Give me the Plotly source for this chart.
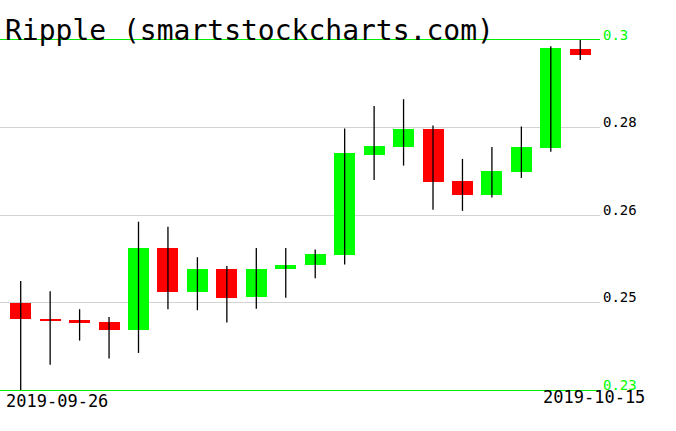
import plotly.graph_objects as go
import pandas as pd

dates = pd.date_range("2019-09-26", "2019-10-15", freq="D").strftime("%Y-%m-%d").tolist()
opens  = [0.2475, 0.2443, 0.2441, 0.2437, 0.2422, 0.2581, 0.2496, 0.2540, 0.2486, 0.2541,
          0.2547, 0.2568, 0.2762, 0.2778, 0.2813, 0.2711, 0.2683, 0.2729, 0.2776, 0.2968]
highs  = [0.2517, 0.2497, 0.2462, 0.2447, 0.2632, 0.2622, 0.2563, 0.2546, 0.2581, 0.2581,
          0.2578, 0.2813, 0.2857, 0.2870, 0.2819, 0.2754, 0.2777, 0.2817, 0.2973, 0.2985]
lows   = [0.2305, 0.2354, 0.2401, 0.2366, 0.2377, 0.2462, 0.2460, 0.2436, 0.2463, 0.2484,
          0.2522, 0.2549, 0.2713, 0.2741, 0.2655, 0.2653, 0.2679, 0.2717, 0.2768, 0.2946]
closes = [0.2442, 0.2439, 0.2436, 0.2422, 0.2581, 0.2496, 0.2540, 0.2484, 0.2540, 0.2548,
          0.2569, 0.2765, 0.2779, 0.2813, 0.2710, 0.2683, 0.2730, 0.2777, 0.2969, 0.2955]

tick_vals = [0.2305, 0.2475, 0.2645, 0.2815, 0.2985]
tick_text = ["0.23", "0.25", "0.26", "0.28", "0.3"]
tick_colors = ["#00ff00", "#000000", "#000000", "#000000", "#00ff00"]

title_text = "Ripple (smartstockcharts.com)"
FONT = "DejaVu Sans Mono"

# wicks
wx, wy = [], []
for d, lo, hi in zip(dates, lows, highs):
    wx += [d, d, None]
    wy += [lo, hi, None]

body_base = [min(o, c) for o, c in zip(opens, closes)]
body_len = [max(abs(c - o), 0.00025) for o, c in zip(opens, closes)]
body_col = ["#00ff00" if c >= o else "#ff0000" for o, c in zip(opens, closes)]

fig = go.Figure()
fig.add_trace(go.Scatter(x=wx, y=wy, mode="lines", line=dict(color="black", width=1.3),
                         hoverinfo="skip", showlegend=False))
fig.add_trace(go.Bar(x=dates, y=body_len, base=body_base, marker=dict(color=body_col, line=dict(width=0)),
                     width=0.713 * 86400000, showlegend=False))

fig.update_layout(
    width=676, height=431,
    margin=dict(l=0, r=76, t=40, b=41),
    paper_bgcolor="white", plot_bgcolor="white",
    font=dict(family=FONT, color="black"),
    bargap=0,
    title=dict(text=title_text, x=5 / 676, xanchor="left", xref="container",
               y=1 - 30 / 431, yanchor="middle", yref="container",
               font=dict(family=FONT, size=28, color="black")),
    xaxis=dict(type="date", range=["2019-09-25 07:08", "2019-10-15 16:05"],
               showgrid=False, showticklabels=False, ticks="",
               showline=True, linecolor="#00ee00", linewidth=1, mirror=True,
               zeroline=False),
    yaxis=dict(side="right", range=[tick_vals[0], tick_vals[-1]],
               tickvals=tick_vals,
               ticktext=[f'<span style="color:{c}">{t}</span>' for t, c in zip(tick_text, tick_colors)],
               ticks="", showgrid=True, gridcolor="#d3d3d3", gridwidth=1,
               zeroline=False, showline=False,
               tickfont=dict(family=FONT, size=14),
               ticklabelshift=-5, ticklabelstandoff=2),
)

fig.add_annotation(x=dates[0], y=0, yref="paper", xref="x", text=dates[0], showarrow=False,
                   xanchor="left", yanchor="top", xshift=-17, yshift=1,
                   font=dict(family=FONT, size=17, color="black"))
fig.add_annotation(x=dates[-1], y=0, yref="paper", xref="x", text=dates[-1], showarrow=False,
                   xanchor="right", yanchor="top", xshift=67, yshift=5,
                   font=dict(family=FONT, size=17, color="black"))

fig.write_html("out.html", config={"displayModeBar": False},
               post_script="document.body.style.margin='0';document.body.style.padding='0';")
